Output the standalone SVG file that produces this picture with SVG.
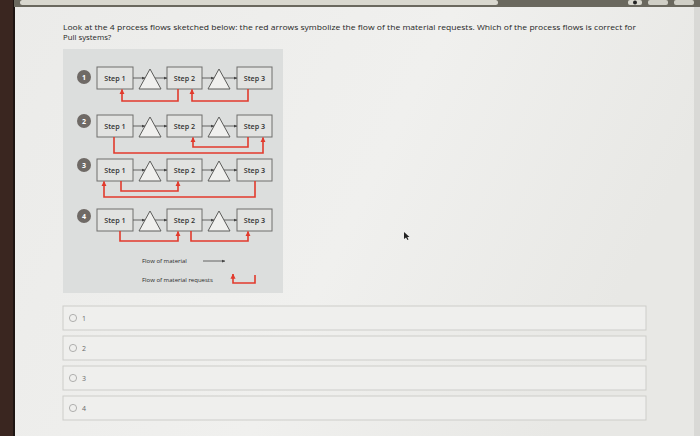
<svg xmlns="http://www.w3.org/2000/svg" width="700" height="436" viewBox="0 0 700 436">
<defs>
<style>
.q{font-family:"Open Sans","Liberation Sans",sans-serif;font-size:7.8px;fill:#1f1f1f}
.box{fill:#e2e3e1;stroke:#6e6e6c;stroke-width:1}
.st{font-family:"Open Sans","Liberation Sans",sans-serif;font-size:7.2px;font-weight:600;fill:#333;text-anchor:middle}
.tri{fill:#f0f0ee;stroke:#5c5c5a;stroke-width:1}
.mf{stroke:#555;stroke-width:0.9;fill:none;marker-end:url(#ah)}
.rq{stroke:#e23a2c;stroke-width:1.6;fill:none;marker-end:url(#rh)}
.badge{fill:#6f6a66}
.bn{font-family:"Open Sans","Liberation Sans",sans-serif;font-size:7px;font-weight:700;fill:#fff;text-anchor:middle}
.lg{font-family:"Open Sans","Liberation Sans",sans-serif;font-size:6px;fill:#2a2a2a}
.opt{fill:#efefed;stroke:#cdcdca;stroke-width:1}
.rad{fill:none;stroke:#a0a09e;stroke-width:0.8}
.ol{font-family:"Open Sans","Liberation Sans",sans-serif;font-size:7px;fill:#6a6a6a}
</style>
<marker id="ah" viewBox="0 0 6 6" refX="5.5" refY="3" markerWidth="4" markerHeight="4" orient="auto"><path d="M0,0.5 L6,3 L0,5.5 Z" fill="#444"/></marker>
<marker id="rh" viewBox="0 0 6 6" refX="5.5" refY="3" markerWidth="3.2" markerHeight="3.2" orient="auto"><path d="M0,0 L6,3 L0,6 Z" fill="#e23a2c"/></marker>
<linearGradient id="pg" x1="0" y1="0" x2="1" y2="0.3"><stop offset="0" stop-color="#ebebe9"/><stop offset="0.6" stop-color="#f0f0ee"/><stop offset="1" stop-color="#e8e8e5"/></linearGradient>
</defs>
<rect x="0" y="0" width="700" height="436" fill="url(#pg)"/>
<rect x="0" y="0" width="14" height="436" fill="#3a2620"/>
<rect x="13" y="0" width="2" height="436" fill="#1e1512"/>
<rect x="14" y="0" width="686" height="7" fill="#6a685e"/>
<rect x="20" y="0" width="478" height="5" rx="2.5" fill="#d9d8cf"/>
<rect x="628" y="0" width="14" height="5" rx="2" fill="#d8d7ce"/><circle cx="635" cy="2.5" r="2" fill="#222"/>
<rect x="648" y="0" width="20" height="5" rx="2" fill="#d0cfc6"/>
<rect x="674" y="0" width="20" height="5" rx="2" fill="#d0cfc6"/>
<rect x="694" y="7" width="6" height="429" fill="#d9d9d6"/>

<g id="question">
<text class="q" x="63" y="30" textLength="573" lengthAdjust="spacingAndGlyphs">Look at the 4 process flows sketched below: the red arrows symbolize the flow of the material requests. Which of the process flows is correct for</text>
<text class="q" x="63" y="40">Pull systems?</text>
</g>

<rect id="panel" x="63" y="49" width="220" height="244" fill="#dcdedd"/>

<g id="flow1">
<g id="f1-badge"><circle class="badge" cx="84" cy="77" r="7" fill="#554d48"/><text class="bn" x="84" y="79.5">1</text></g>
<g id="f1-step1"><rect class="box" x="97" y="67" width="36" height="22"/><text class="st" x="115" y="80.5">Step 1</text></g>
<g id="f1-buf1"><polygon class="tri" points="150,69 161,89 139,89"/></g>
<g id="f1-step2"><rect class="box" x="167" y="67" width="35" height="22"/><text class="st" x="184.5" y="80.5">Step 2</text></g>
<g id="f1-buf2"><polygon class="tri" points="219,69 230,89 208,89"/></g>
<g id="f1-step3"><rect class="box" x="237" y="67" width="35" height="22"/><text class="st" x="254.5" y="80.5">Step 3</text></g>
</g>
<g id="flow2">
<g id="f2-badge"><circle class="badge" cx="84" cy="121" r="7"/><text class="bn" x="84" y="123.5">2</text></g>
<g id="f2-step1"><rect class="box" x="97" y="115" width="36" height="22"/><text class="st" x="115" y="128.5">Step 1</text></g>
<g id="f2-buf1"><polygon class="tri" points="150,117 161,137 139,137"/></g>
<g id="f2-step2"><rect class="box" x="167" y="115" width="35" height="22"/><text class="st" x="184.5" y="128.5">Step 2</text></g>
<g id="f2-buf2"><polygon class="tri" points="219,117 230,137 208,137"/></g>
<g id="f2-step3"><rect class="box" x="237" y="115" width="35" height="22"/><text class="st" x="254.5" y="128.5">Step 3</text></g>
</g>
<g id="flow3">
<g id="f3-badge"><circle class="badge" cx="84" cy="165" r="7"/><text class="bn" x="84" y="167.5">3</text></g>
<g id="f3-step1"><rect class="box" x="97" y="159" width="36" height="22"/><text class="st" x="115" y="172.5">Step 1</text></g>
<g id="f3-buf1"><polygon class="tri" points="150,161 161,181 139,181"/></g>
<g id="f3-step2"><rect class="box" x="167" y="159" width="35" height="22"/><text class="st" x="184.5" y="172.5">Step 2</text></g>
<g id="f3-buf2"><polygon class="tri" points="219,161 230,181 208,181"/></g>
<g id="f3-step3"><rect class="box" x="237" y="159" width="35" height="22"/><text class="st" x="254.5" y="172.5">Step 3</text></g>
</g>
<g id="flow4">
<g id="f4-badge"><circle class="badge" cx="84" cy="216" r="7" fill="#7a7570"/><text class="bn" x="84" y="218.5">4</text></g>
<g id="f4-step1"><rect class="box" x="97" y="209" width="36" height="22"/><text class="st" x="115" y="222.5">Step 1</text></g>
<g id="f4-buf1"><polygon class="tri" points="150,211 161,231 139,231"/></g>
<g id="f4-step2"><rect class="box" x="167" y="209" width="35" height="22"/><text class="st" x="184.5" y="222.5">Step 2</text></g>
<g id="f4-buf2"><polygon class="tri" points="219,211 230,231 208,231"/></g>
<g id="f4-step3"><rect class="box" x="237" y="209" width="35" height="22"/><text class="st" x="254.5" y="222.5">Step 3</text></g>
</g>

<g id="connectors">
<path class="mf" d="M133,78 L145,78"/><path class="mf" d="M155,78 L167,78"/><path class="mf" d="M202,78 L214,78"/><path class="mf" d="M224,78 L237,78"/>
<path class="mf" d="M133,126 L145,126"/><path class="mf" d="M155,126 L167,126"/><path class="mf" d="M202,126 L214,126"/><path class="mf" d="M224,126 L237,126"/>
<path class="mf" d="M133,170 L145,170"/><path class="mf" d="M155,170 L167,170"/><path class="mf" d="M202,170 L214,170"/><path class="mf" d="M224,170 L237,170"/>
<path class="mf" d="M133,220 L145,220"/><path class="mf" d="M155,220 L167,220"/><path class="mf" d="M202,220 L214,220"/><path class="mf" d="M224,220 L237,220"/>
<path class="rq" d="M178,89 L178,101 L122,101 L122,89.5"/>
<path class="rq" d="M248,89 L248,101 L192,101 L192,89.5"/>
<path class="rq" d="M114,137 L114,153 L263,153 L263,137.5"/>
<path class="rq" d="M248,137 L248,147 L193,147 L193,137.5"/>
<path class="rq" d="M121,181 L121,191 L178,191 L178,181.5"/>
<path class="rq" d="M255,181 L255,197 L104,197 L104,181.5"/>
<path class="rq" d="M120,231 L120,241 L178,241 L178,231.5"/>
<path class="rq" d="M191,231 L191,241 L248,241 L248,231.5"/>
</g>

<g id="legend">
<text class="lg" x="142" y="263">Flow of material</text>
<path class="mf" d="M203,261 L225,261"/>
<text class="lg" x="142" y="282">Flow of material requests</text>
<path class="rq" d="M255,275 L255,283 L233,283 L233,274"/>
</g>

<path id="cursor" d="M404,232 L404,239 L406,237.5 L407.5,240 L408.5,239.5 L407.2,237 L409.5,237 Z" fill="#222"/>

<g id="option1"><rect class="opt" x="63" y="306" width="583" height="24"/><circle class="rad" cx="73" cy="318" r="3.6"/><text class="ol" x="82" y="320.5">1</text></g>
<g id="option2"><rect class="opt" x="63" y="336" width="583" height="24"/><circle class="rad" cx="73" cy="348" r="3.6"/><text class="ol" x="82" y="350.5">2</text></g>
<g id="option3"><rect class="opt" x="63" y="366" width="583" height="24"/><circle class="rad" cx="73" cy="378" r="3.6"/><text class="ol" x="82" y="380.5">3</text></g>
<g id="option4"><rect class="opt" x="63" y="396" width="583" height="24"/><circle class="rad" cx="73" cy="408" r="3.6"/><text class="ol" x="82" y="410.5">4</text></g>
</svg>
